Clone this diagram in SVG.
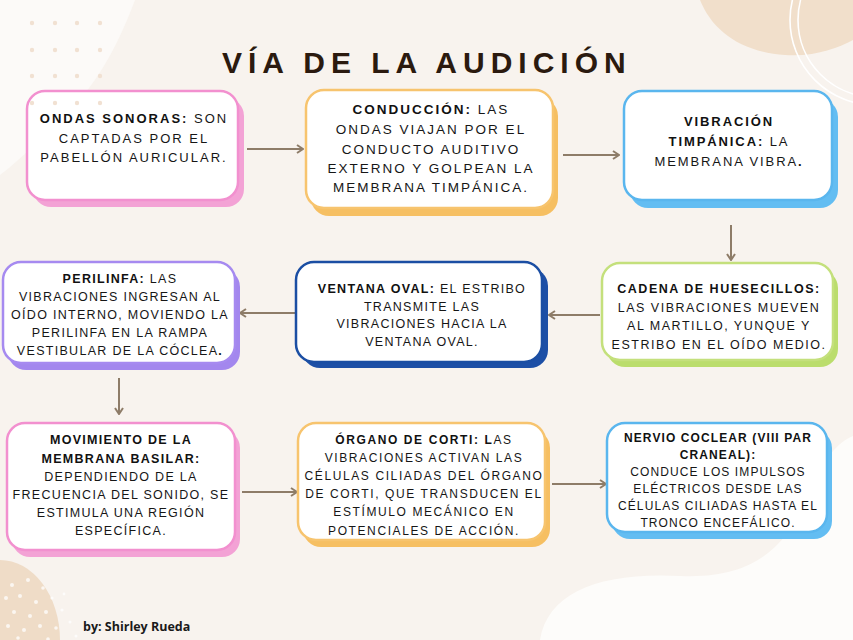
<svg xmlns="http://www.w3.org/2000/svg" width="853" height="640" viewBox="0 0 853 640">
<defs>
<style>
.t{font-family:"Liberation Sans",Arial,sans-serif;fill:#161616;text-anchor:middle}
.b{font-weight:700;fill:#111}
.conn{fill:none;stroke:#8e7c68;stroke-width:2}
.w{fill:#fff;stroke-width:2.5}
.dot{fill:#f1e1d2}
.wd{fill:#fff;opacity:.75}
</style>
<marker id="ah" viewBox="0 0 8 10" refX="7" refY="5" markerWidth="8" markerHeight="10" markerUnits="userSpaceOnUse" orient="auto">
<path d="M1,1 L7,5 L1,9" fill="none" stroke="#8e7c68" stroke-width="2"/>
</marker>
</defs>
<rect width="853" height="640" fill="#f8f3ee"/>
<g id="background">
<path d="M0,0 L135,0 C120,40 100,80 70,110 C45,135 20,160 0,175 Z" fill="#fcfaf8"/>
<path d="M540,640 C548,592 600,572 680,576 C760,580 790,540 810,492 C824,458 838,442 853,436 L853,640 Z" fill="#fdfcfa"/>
<path d="M700,0 C712,30 740,52 785,55 C815,57 838,48 853,40 L853,0 Z" fill="#f1dfcb"/>
<circle cx="875" cy="20" r="85" fill="none" stroke="#fff" stroke-width="1.6"/>
<circle cx="875" cy="20" r="77" fill="none" stroke="#fff" stroke-width="1.6"/>
<ellipse cx="0" cy="640" rx="60" ry="80" fill="#efdcc7"/>
<g>
<circle class="wd" cx="12" cy="585" r="2"/><circle class="wd" cx="28" cy="580" r="2"/><circle class="wd" cx="43" cy="588" r="1.8"/>
<circle class="wd" cx="6" cy="598" r="2"/><circle class="wd" cx="20" cy="596" r="2"/><circle class="wd" cx="36" cy="602" r="2"/>
<circle class="wd" cx="52" cy="598" r="1.6"/><circle class="wd" cx="14" cy="612" r="2"/><circle class="wd" cx="30" cy="616" r="2"/>
<circle class="wd" cx="46" cy="612" r="2"/><circle class="wd" cx="62" cy="610" r="1.6"/><circle class="wd" cx="8" cy="626" r="2"/>
<circle class="wd" cx="24" cy="630" r="2"/><circle class="wd" cx="40" cy="626" r="2"/><circle class="wd" cx="56" cy="628" r="1.8"/>
<circle class="wd" cx="70" cy="622" r="1.5"/><circle class="wd" cx="18" cy="638" r="1.8"/><circle class="wd" cx="48" cy="639" r="1.8"/>
<circle class="wd" cx="76" cy="636" r="1.5"/><circle class="wd" cx="64" cy="594" r="1.4"/>
</g>
</g>
<text id="title" x="222" y="73" style="font-family:'Liberation Sans',Arial,sans-serif;font-weight:700;font-size:30px;letter-spacing:6px;fill:#2b1a0f">VÍA DE LA AUDICIÓN</text>
<g id="connectors">
<line class="conn" x1="247" y1="149" x2="303" y2="149" marker-end="url(#ah)"/>
<line class="conn" x1="563" y1="155" x2="619" y2="155" marker-end="url(#ah)"/>
<line class="conn" x1="731" y1="225" x2="731" y2="260" marker-end="url(#ah)"/>
<line class="conn" x1="600" y1="315" x2="549" y2="315" marker-end="url(#ah)"/>
<line class="conn" x1="295" y1="313" x2="240" y2="313" marker-end="url(#ah)"/>
<line class="conn" x1="119" y1="378" x2="119" y2="414" marker-end="url(#ah)"/>
<line class="conn" x1="242" y1="492" x2="297" y2="492" marker-end="url(#ah)"/>
<line class="conn" x1="552" y1="484" x2="606" y2="484" marker-end="url(#ah)"/>
</g>
<g id="n1">
<rect x="33" y="98" width="211" height="109" rx="18" fill="#f3a2d5"/>
<rect class="w" x="27" y="91" width="211" height="109" rx="18" stroke="#f290cf"/>
<text class="t" style="font-size:13px;letter-spacing:2px"><tspan x="134" y="123"><tspan class="b">ONDAS SONORAS:</tspan> SON</tspan><tspan x="134" y="142.5">CAPTADAS POR EL</tspan><tspan x="134" y="162">PABELLÓN AURICULAR.</tspan></text>
</g>
<g id="n2">
<rect x="311" y="98" width="247" height="118" rx="18" fill="#f6bf62"/>
<rect class="w" x="306" y="90" width="247" height="118" rx="18" stroke="#f7c46e"/>
<text class="t" style="font-size:13.5px;letter-spacing:2px"><tspan x="431" y="114"><tspan class="b">CONDUCCIÓN:</tspan> LAS</tspan><tspan x="431" y="134">ONDAS VIAJAN POR EL</tspan><tspan x="431" y="153.5">CONDUCTO AUDITIVO</tspan><tspan x="431" y="173">EXTERNO Y GOLPEAN LA</tspan><tspan x="431" y="192">MEMBRANA TIMPÁNICA.</tspan></text>
</g>
<g id="n3">
<rect x="630" y="99" width="208" height="109" rx="18" fill="#63bdf2"/>
<rect class="w" x="624" y="91" width="208" height="109" rx="18" stroke="#5ab6ee"/>
<text class="t" style="font-size:13px;letter-spacing:1.9px"><tspan x="729" y="126" class="b">VIBRACIÓN</tspan><tspan x="729" y="146"><tspan class="b">TIMPÁNICA:</tspan> LA</tspan><tspan x="729" y="165.5">MEMBRANA VIBRA<tspan class="b">.</tspan></tspan></text>
</g>
<g id="n4">
<rect x="607" y="270" width="231" height="97" rx="18" fill="#bbdd6c"/>
<rect class="w" x="602" y="263" width="231" height="97" rx="18" stroke="#c4e07c"/>
<text class="t" style="font-size:12.5px;letter-spacing:1.5px"><tspan x="719" y="292.7" class="b">CADENA DE HUESECILLOS:</tspan><tspan x="719" y="311.5">LAS VIBRACIONES MUEVEN</tspan><tspan x="719" y="330.3">AL MARTILLO, YUNQUE Y</tspan><tspan x="719" y="349">ESTRIBO EN EL OÍDO MEDIO.</tspan></text>
</g>
<g id="n5">
<rect x="302" y="268" width="246" height="100" rx="18" fill="#1d4fa6"/>
<rect class="w" x="296" y="262" width="246" height="100" rx="18" stroke="#1b4ea3"/>
<text class="t" style="font-size:12.5px;letter-spacing:1.3px"><tspan x="422" y="292.7"><tspan class="b">VENTANA OVAL:</tspan> EL ESTRIBO</tspan><tspan x="422" y="310.5">TRANSMITE LAS</tspan><tspan x="422" y="328.3">VIBRACIONES HACIA LA</tspan><tspan x="422" y="346.1">VENTANA OVAL.</tspan></text>
</g>
<g id="n6">
<rect x="8" y="269" width="232" height="101" rx="18" fill="#a387ee"/>
<rect class="w" x="3" y="262" width="232" height="101" rx="18" stroke="#a68af0"/>
<text class="t" style="font-size:12.5px;letter-spacing:1.3px"><tspan x="120" y="282.5"><tspan class="b">PERILINFA:</tspan> LAS</tspan><tspan x="120" y="300.7">VIBRACIONES INGRESAN AL</tspan><tspan x="120" y="318.9">OÍDO INTERNO, MOVIENDO LA</tspan><tspan x="120" y="337.1">PERILINFA EN LA RAMPA</tspan><tspan x="120" y="355.3">VESTIBULAR DE LA CÓCLEA<tspan class="b">.</tspan></tspan></text>
</g>
<g id="n7">
<rect x="12" y="430" width="228" height="127" rx="18" fill="#f3a2d5"/>
<rect class="w" x="7" y="423" width="228" height="127" rx="18" stroke="#f290cf"/>
<text class="t" style="font-size:12.5px;letter-spacing:1.3px"><tspan x="121" y="444.4" class="b">MOVIMIENTO DE LA</tspan><tspan x="121" y="462.6" class="b">MEMBRANA BASILAR:</tspan><tspan x="121" y="480.8">DEPENDIENDO DE LA</tspan><tspan x="121" y="499">FRECUENCIA DEL SONIDO, SE</tspan><tspan x="121" y="517.2">ESTIMULA UNA REGIÓN</tspan><tspan x="121" y="535.4">ESPECÍFICA.</tspan></text>
</g>
<g id="n8">
<rect x="303" y="430" width="247" height="117" rx="18" fill="#f6bf62"/>
<rect class="w" x="298" y="423" width="247" height="117" rx="18" stroke="#f7c46e"/>
<text class="t" style="font-size:12px;letter-spacing:1.6px"><tspan x="424" y="443.5"><tspan class="b">ÓRGANO DE CORTI: L</tspan>AS</tspan><tspan x="424" y="461.7">VIBRACIONES ACTIVAN LAS</tspan><tspan x="424" y="479.9">CÉLULAS CILIADAS DEL ÓRGANO</tspan><tspan x="424" y="498.1">DE CORTI, QUE TRANSDUCEN EL</tspan><tspan x="424" y="516.3">ESTÍMULO MECÁNICO EN</tspan><tspan x="424" y="534.5">POTENCIALES DE ACCIÓN.</tspan></text>
</g>
<g id="n9">
<rect x="612" y="430" width="220" height="109" rx="18" fill="#63bdf2"/>
<rect class="w" x="607" y="423" width="220" height="109" rx="18" stroke="#5ab6ee"/>
<text class="t" style="font-size:12px;letter-spacing:1.1px"><tspan x="718" y="441.5" class="b">NERVIO COCLEAR (VIII PAR</tspan><tspan x="718" y="458.6" class="b">CRANEAL):</tspan><tspan x="718" y="475.7">CONDUCE LOS IMPULSOS</tspan><tspan x="718" y="492.8">ELÉCTRICOS DESDE LAS</tspan><tspan x="718" y="509.9">CÉLULAS CILIADAS HASTA EL</tspan><tspan x="718" y="527">TRONCO ENCEFÁLICO.</tspan></text>
</g>
<g id="dots">
<circle class="dot" cx="32" cy="23" r="2.2"/><circle class="dot" cx="55" cy="23" r="2.2"/><circle class="dot" cx="77" cy="23" r="2.2"/><circle class="dot" cx="100" cy="23" r="2.2"/>
<circle class="dot" cx="32" cy="50" r="2.2"/><circle class="dot" cx="55" cy="50" r="2.2"/><circle class="dot" cx="77" cy="50" r="2.2"/><circle class="dot" cx="100" cy="50" r="2.2"/>
<circle class="dot" cx="32" cy="76" r="2.2"/><circle class="dot" cx="55" cy="76" r="2.2"/><circle class="dot" cx="77" cy="76" r="2.2"/><circle class="dot" cx="100" cy="76" r="2.2"/>
<circle class="dot" cx="32" cy="103" r="2.2"/><circle class="dot" cx="55" cy="103" r="2.2"/><circle class="dot" cx="77" cy="103" r="2.2"/><circle class="dot" cx="100" cy="103" r="2.2"/>
</g>
<text id="credit" x="83" y="631" style="font-family:'Open Sans','Liberation Sans',sans-serif;font-weight:700;font-size:12.5px;fill:#1a1a1a">by: Shirley Rueda</text>
</svg>
